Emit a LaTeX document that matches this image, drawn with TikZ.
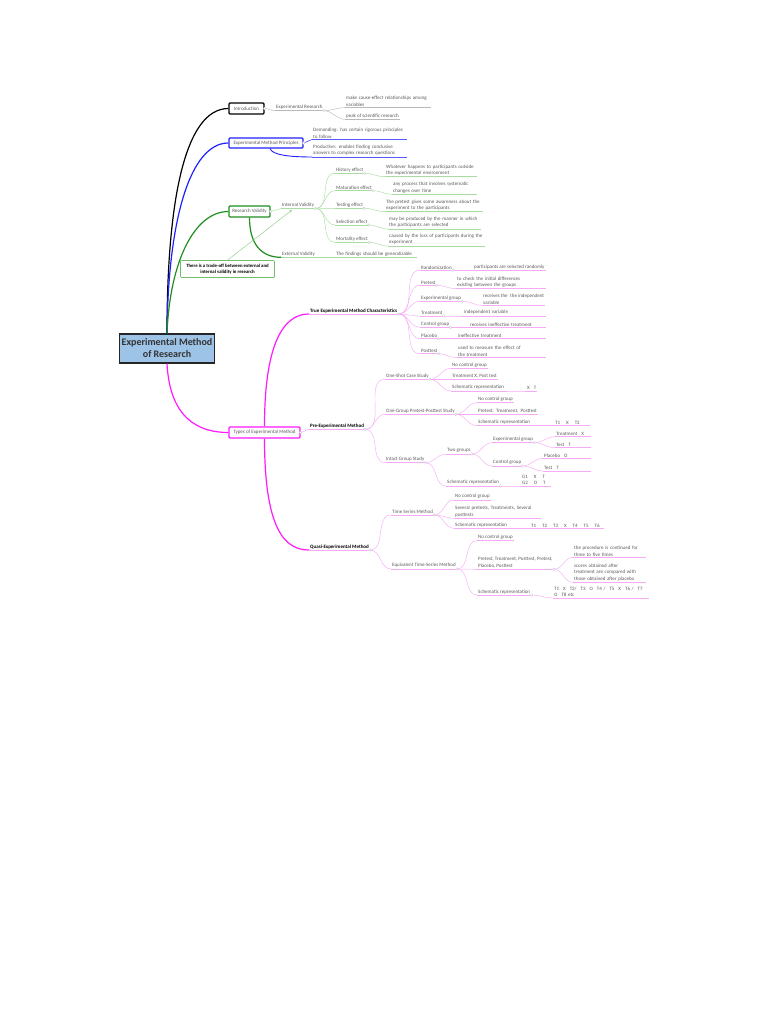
\documentclass[tikz,border=0pt]{standalone}
\usepackage{fontspec}
\setmainfont{Carlito}
\usetikzlibrary{arrows.meta}
\usetikzlibrary{calc}

\definecolor{rootfill}{HTML}{9DC3E6}
\definecolor{branchblue}{HTML}{2020FF}
\definecolor{branchgreen}{HTML}{1E8E1E}
\definecolor{palegreen}{HTML}{A8DCA0}
\definecolor{branchpink}{HTML}{FF19FF}
\definecolor{palepink}{HTML}{F6ABF6}
\definecolor{leafgray}{HTML}{595959}
\newcommand{\tsp}{\hspace*{6pt}}
\newcommand{\nsp}{\hspace*{4pt}}

\begin{document}
\begin{tikzpicture}[x=1pt,y=-1pt]
		\tikzset{root/.style = {shape=rectangle, draw=black!85, line width=1.4pt, fill=rootfill, align=center, inner sep=2pt, minimum width=94pt, minimum height=29pt, font=\fontsize{10}{12}\selectfont\bfseries, text=black!80}}
		\tikzset{box/.style = {shape=rectangle, rounded corners=1pt, draw=#1, line width=1.1pt, fill=white, inner sep=1pt, font=\fontsize{5}{6}\selectfont, text=leafgray}}
		\tikzset{leaf/.style = {anchor=south west, inner xsep=1pt, inner ysep=1pt, align=left, font=\fontsize{5}{6.5}\selectfont, text=leafgray}}
		\tikzset{head/.style = {leaf, font=\fontsize{5}{6.5}\selectfont\bfseries, text=black}}
		\tikzset{trunk/.style = {line width=1.2pt}}
		\tikzset{twig/.style = {line width=0.45pt}}
		\tikzset{fan/.style = {twig, out=0, in=180}}
		\tikzset{knob/.style = {draw=gray!45, fill=white, line width=0.3pt}}
		\useasboundingbox (0,0) rectangle (768,1024);
		
		% centre and main branches
		\node[root] (root) at (167,348.5) {Experimental Method\\of Research};
		\node[box=black, minimum width=35pt, minimum height=11pt] (intro) at (246.5,108.5) {Introduction};
		\node[box=branchblue, minimum width=74pt, minimum height=10pt] (emp) at (266,143) {Experimental Method Principles};
		\node[box=branchgreen, minimum width=41pt, minimum height=11pt] (rv) at (249.5,211.5) {Research Validity};
		\node[box=branchpink, minimum width=71pt, minimum height=11pt] (types) at (264.5,432.5) {Types of Experimental Method};
		\node[box=palegreen!60!branchgreen, line width=0.7pt, minimum width=94pt, minimum height=17pt, align=center, font=\fontsize{4.8}{6}\selectfont\bfseries, text=black] (note) at (227.5,269) {There is a trade-off between external and\\internal validity in research};
		\draw[trunk, black] (root.north) .. controls (167,200) and (185,108.5) .. (intro.west);
		\draw[trunk, branchblue] (root.north) .. controls (168,220) and (190,143) .. (emp.west);
		\draw[trunk, branchgreen] (root.north) .. controls (170,260) and (195,211.5) .. (rv.west);
		\draw[trunk, branchpink] (root.south) .. controls (170,420) and (200,432.5) .. (types.west);
		
		% introduction
		\node[leaf] (er) at (275,110.7) {Experimental Research};
		\node[leaf, text width=84pt] (cause) at (345,107.7) {make cause-effect relationships among\\variables};
		\node[leaf] (peak) at (345,119.3) {peak of scientific research};
		\draw[fan, gray!55] (intro.east) to (er.south west);
		\draw[fan, gray!55] (er.south east) to (cause.south west) (er.south east) to (peak.south west);
		\foreach \n in {er,cause,peak}
			\draw[twig, gray!55] (\n.south west) -- (\n.south east);
		
		% principles
		\node[leaf, text width=93pt] (dem) at (312,139.5) {Demanding: has certain rigorous principles\\to follow};
		\node[leaf, text width=93pt] (prod) at (312,157) {Productive: enables finding conclusive\\answers to complex research questions};
		\draw[fan, branchblue] (emp.east) to (dem.south west);
		\draw[branchblue, line width=0.9pt] ($(emp.south)+(4,0)$) .. controls (272,155) and (290,157) .. (prod.south west);
		\foreach \n in {dem,prod}
			\draw[twig, branchblue!75] (\n.south west) -- (\n.south east);
		
		% validity
		\node[leaf] (iv) at (281,208.5) {Internal Validity};
		\node[leaf] (ev) at (281,257.3) {External Validity};
		\node[leaf, text width=80pt] (gen) at (335,257.3) {The findings should be generalizable};
		\node[leaf] (hist) at (335,173.3) {History effect};
		\node[leaf, text width=90pt] (histd) at (385,176.7) {Whatever happens to participants outside\\the experimental environment};
		\node[leaf] (mat) at (335,190.7) {Maturation effect};
		\node[leaf, text width=83pt] (matd) at (392,194.3) {any process that involves systematic\\changes over time};
		\node[leaf] (test) at (335,208.3) {Testing effect};
		\node[leaf, text width=96pt] (testd) at (385,211.7) {The pretest gives some awareness about the\\experiment to the participants};
		\node[leaf] (sel) at (335,225) {Selection effect};
		\node[leaf, text width=91pt] (seld) at (388,229) {may be produced by the manner in which\\the participants are selected};
		\node[leaf] (mort) at (335,242.3) {Mortality effect};
		\node[leaf, text width=95pt] (mortd) at (388,246) {caused by the loss of participants during the\\experiment};
		\draw[palegreen, twig] (rv.east) -- (iv.south west);
		\draw[branchgreen, trunk] (rv.south) .. controls (249.5,245) and (262,257.3) .. (ev.south west);
		\draw[palegreen, twig] (ev.south east) -- (gen.south west);
		\foreach \a/\b in {hist/histd, mat/matd, test/testd, sel/seld, mort/mortd}
			{\draw[palegreen, fan] (iv.south east) to (\a.south west);
			 \draw[palegreen, fan] (\a.south east) to (\b.south west);}
		\foreach \n in {iv,ev,gen,hist,histd,mat,matd,test,testd,sel,seld,mort,mortd}
			\draw[twig, palegreen] (\n.south west) -- (\n.south east);
		\draw[palegreen!80!branchgreen, twig, -{Stealth[length=3pt,width=2.4pt]}] (note.north) -- ($(iv.south west)+(11,1.5)$);
		
		% types: true experimental
		\node[head] (truec) at (309,314) {True Experimental Method Characteristics};
		\node[leaf] (rand) at (420,270.3) {Randomization};
		\node[leaf] (randd) at (473,270.3) {participants are selected randomly};
		\node[leaf] (pre) at (420,285.3) {Pretest};
		\node[leaf, text width=88pt] (pred) at (456,288.7) {to check the initial differences\\existing between the groups};
		\node[leaf] (expg) at (420,301.3) {Experimental group};
		\node[leaf] (expgd) at (482,305.3) {receives the\enspace the independent\\variable};
		\node[leaf] (treat) at (420,316) {Treatment};
		\node[leaf, text width=81pt] (treatd) at (463,316) {independent variable};
		\node[leaf] (ctrl) at (420,327.3) {Control group};
		\node[leaf, text width=75pt] (ctrld) at (469,327.3) {receives ineffective treatment};
		\node[leaf] (plac) at (420,338.7) {Placebo};
		\node[leaf, text width=87pt] (placd) at (457,338.7) {ineffective treatment};
		\node[leaf] (post) at (420,353.7) {Posttest};
		\node[leaf, text width=87pt] (postd) at (457,357.7) {used to measure the effect of\\the treatment};
		\draw[branchpink, trunk] (types.north) .. controls (264.5,330) and (290,314) .. (truec.south west);
		\foreach \a/\b in {rand/randd, pre/pred, expg/expgd, treat/treatd, ctrl/ctrld, plac/placd, post/postd}
			{\draw[palepink, fan] (truec.south east) to (\a.south west);
			 \draw[palepink, fan] (\a.south east) to (\b.south west);}
		
		% types: pre-experimental
		\node[head] (preexp) at (309,429.3) {Pre-Experimental Method};
		\node[leaf] (oneshot) at (385,379.3) {One-Shot Case Study};
		\node[leaf] (os1) at (451,368.3) {No control group};
		\node[leaf] (os2) at (451,379.3) {Treatment X, Post test};
		\node[leaf] (os3) at (451,391) {Schematic representation};
		\node[leaf] (os3d) at (526,391) {X\nsp T};
		\node[leaf] (onegroup) at (385,414.3) {One-Group Pretest-Posttest Study};
		\node[leaf] (og1) at (477,402.7) {No control group};
		\node[leaf] (og2) at (477,414.3) {Pretest,\ \ Treatment,\ \ Posttest};
		\node[leaf] (og3) at (477,425.7) {Schematic representation};
		\node[leaf, text width=34pt] (og3d) at (554,425.7) {T1\tsp X\tsp T2};
		\node[leaf] (intact) at (385,462.7) {Intact Group Study};
		\node[leaf] (two) at (446,454) {Two groups};
		\node[leaf] (ig1) at (492,442.7) {Experimental group};
		\node[leaf, text width=34pt] (ig1a) at (555,436.7) {Treatment\nsp X};
		\node[leaf, text width=34pt] (ig1b) at (555,447.7) {Test\nsp T};
		\node[leaf] (ig2) at (492,466) {Control group};
		\node[leaf, text width=46pt] (ig2a) at (543,458.3) {Placebo\nsp O};
		\node[leaf, text width=46pt] (ig2b) at (543,471) {Test\nsp T};
		\node[leaf] (igs) at (446,486) {Schematic representation};
		\node[leaf, text width=28pt] (igsd) at (521,486) {G1\tsp X\tsp T\\G2\tsp O\tsp T};
		\draw[palepink, twig] (types.east) -- (preexp.south west);
		\foreach \a/\b in {preexp/oneshot, preexp/onegroup, preexp/intact, oneshot/os1, oneshot/os2, oneshot/os3, os3/os3d, onegroup/og1, onegroup/og2, onegroup/og3, og3/og3d, intact/two, intact/igs, igs/igsd, two/ig1, two/ig2, ig1/ig1a, ig1/ig1b, ig2/ig2a, ig2/ig2b}
			\draw[palepink, fan] (\a.south east) to (\b.south west);
		
		% types: quasi-experimental
		\node[head] (quasi) at (309,550) {Quasi-Experimental Method};
		\node[leaf] (ts) at (391,515) {Time Series Method};
		\node[leaf] (ts1) at (454,500) {No control group};
		\node[leaf, text width=85pt] (ts2) at (454,518.3) {Several pretests, Treatments, Several\\posttests};
		\node[leaf] (ts3) at (454,528.3) {Schematic representation};
		\node[leaf, text width=72pt] (ts3d) at (530,528.3) {T1\tsp T2\tsp T3\tsp X\tsp T4\tsp T5\tsp T6};
		\node[leaf] (ets) at (391,569) {Equivalent Time-Series Method};
		\node[leaf] (e1) at (477,540.7) {No control group};
		\node[leaf] (e2) at (477,569.3) {Pretest, Treatment, Posttest, Pretest,\\Placebo, Posttest};
		\node[leaf, text width=71pt] (e2a) at (573,557.3) {the procedure is continued for\\three to five times};
		\node[leaf, text width=71pt] (e2b) at (573,582.3) {scores obtained after\\treatment are compared with\\those obtained after placebo};
		\node[leaf] (e3) at (477,595) {Schematic representation};
		\node[leaf, text width=94pt] (e3d) at (553,598) {T1\nsp X\nsp T2/\nsp T3\nsp O\nsp T4 /\nsp T5\nsp X\nsp T6 /\nsp T7\\O\nsp T8 etc};
		\draw[branchpink, trunk] (types.south) .. controls (264.5,530) and (285,550) .. (quasi.south west);
		\foreach \a/\b in {quasi/ts, quasi/ets, ts/ts1, ts/ts2, ts/ts3, ts3/ts3d, ets/e1, ets/e2, ets/e3, e2/e2a, e2/e2b, e3/e3d}
			\draw[palepink, fan] (\a.south east) to (\b.south west);
		\foreach \n in {truec,rand,randd,pre,pred,expg,expgd,treat,treatd,ctrl,ctrld,plac,placd,post,postd,preexp,oneshot,os1,os2,os3,os3d,onegroup,og1,og2,og3,og3d,intact,two,ig1,ig1a,ig1b,ig2,ig2a,ig2b,igs,igsd,quasi,ts,ts1,ts2,ts3,ts3d,ets,e1,e2,e2a,e2b,e3,e3d}
			\draw[twig, palepink] (\n.south west) -- (\n.south east);
		
		% fold markers
		\foreach \n in {er,iv,hist,mat,test,sel,mort,truec,rand,pre,expg,treat,ctrl,plac,post,preexp,oneshot,onegroup,intact,two,ig1,ig2,igs,quasi,ts,ets,e2,e3}
			\draw[knob] (\n.south east) circle (1.3);
		\foreach \n in {intro,emp,rv,types}
			\draw[knob] (\n.east) circle (1.3);
\end{tikzpicture}
\end{document}
